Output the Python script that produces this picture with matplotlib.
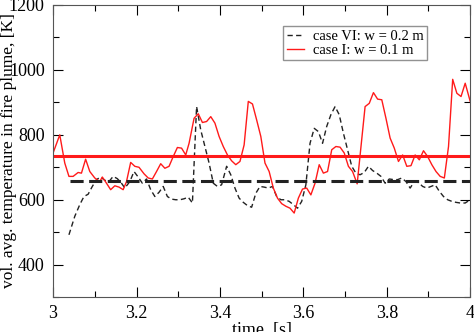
import matplotlib
matplotlib.use("Agg")
import matplotlib.pyplot as plt
from matplotlib.ticker import MultipleLocator

plt.rcParams['font.family'] = ['Liberation Serif', 'DejaVu Serif']

# case I: w = 0.1 m (red solid)
t_case1 = [3.000, 3.016, 3.028, 3.038, 3.048, 3.060, 3.068, 3.078, 3.088, 3.100,
           3.112, 3.118, 3.128, 3.138, 3.148, 3.158, 3.168, 3.176, 3.186, 3.196,
           3.206, 3.218, 3.228, 3.238, 3.248, 3.258, 3.268, 3.278, 3.288, 3.298,
           3.308, 3.318, 3.326, 3.338, 3.348, 3.358, 3.368, 3.378, 3.388, 3.398,
           3.408, 3.418, 3.428, 3.438, 3.448, 3.458, 3.468, 3.478, 3.488, 3.498,
           3.508, 3.518, 3.528, 3.538, 3.548, 3.558, 3.568, 3.578, 3.588, 3.598,
           3.608, 3.618, 3.628, 3.638, 3.648, 3.658, 3.668, 3.678, 3.688, 3.698,
           3.708, 3.718, 3.729, 3.748, 3.758, 3.768, 3.778, 3.788, 3.798, 3.808,
           3.818, 3.828, 3.838, 3.848, 3.858, 3.868, 3.878, 3.888, 3.898, 3.908,
           3.918, 3.928, 3.938, 3.948, 3.958, 3.968, 3.978, 3.988, 4.000]
T_case1 = [744, 800, 713, 672, 672, 684, 682, 725, 687, 667,
           656, 670, 651, 631, 643, 639, 631, 656, 715, 703,
           700, 680, 667, 664, 687, 711, 697, 703, 733, 761,
           759, 738, 774, 851, 865, 838, 841, 856, 836, 795,
           764, 738, 720, 708, 718, 769, 903, 895, 846, 795,
           713, 687, 636, 605, 588, 580, 574, 559, 605, 633,
           636, 615, 651, 708, 682, 687, 754, 764, 762, 744,
           703, 687, 649, 887, 897, 930, 910, 908, 851, 790,
           759, 718, 738, 703, 705, 738, 723, 751, 733, 708,
           687, 672, 667, 764, 971, 928, 918, 959, 903]

# case VI: w = 0.2 m (black dashed)
t_case6 = [3.038, 3.052, 3.064, 3.074, 3.084, 3.094, 3.104, 3.114, 3.124, 3.134,
           3.144, 3.154, 3.164, 3.172, 3.184, 3.194, 3.204, 3.214, 3.224, 3.234,
           3.244, 3.254, 3.264, 3.274, 3.284, 3.294, 3.304, 3.314, 3.324, 3.334,
           3.344, 3.354, 3.364, 3.374, 3.384, 3.394, 3.404, 3.416, 3.426, 3.436,
           3.446, 3.456, 3.466, 3.476, 3.486, 3.496, 3.506, 3.516, 3.526, 3.536,
           3.546, 3.556, 3.566, 3.576, 3.586, 3.596, 3.606, 3.616, 3.626, 3.636,
           3.646, 3.656, 3.666, 3.676, 3.686, 3.696, 3.706, 3.716, 3.726, 3.736,
           3.746, 3.756, 3.766, 3.776, 3.786, 3.796, 3.806, 3.816, 3.826, 3.836,
           3.846, 3.856, 3.866, 3.876, 3.886, 3.896, 3.906, 3.916, 3.926, 3.936,
           3.946, 3.956, 3.966, 3.976, 3.988, 4.000]
T_case6 = [492, 549, 585, 610, 617, 641, 662, 670, 660, 656,
           672, 665, 651, 636, 656, 687, 670, 651, 664, 631,
           610, 623, 641, 610, 602, 600, 600, 603, 608, 590,
           887, 815, 764, 713, 651, 641, 646, 703, 677, 636,
           605, 592, 582, 577, 620, 641, 639, 636, 641, 610,
           600, 600, 595, 585, 574, 595, 646, 774, 820, 810,
           774, 826, 862, 887, 862, 805, 754, 703, 682, 677,
           684, 703, 690, 682, 672, 651, 664, 662, 662, 667,
           656, 636, 656, 653, 641, 636, 641, 646, 626, 610,
           600, 595, 592, 590, 590, 600]

# time averages
mean_case1 = 735
mean_case6 = 657
mean6_start = 3.04

fig = plt.figure(figsize=(4.74, 3.32), dpi=100)
ax = fig.add_axes([0.112, 0.105, 0.880, 0.880])

ax.plot(t_case6, T_case6, color='#222222', linestyle=(0, (3.8, 2.4)), linewidth=1.0,
        label='case VI: w = 0.2 m')
ax.plot(t_case1, T_case1, color='#ff1a1a', linewidth=1.0, label='case I: w = 0.1 m')
ax.plot([mean6_start, 4.0], [mean_case6, mean_case6], color='#222222',
        linestyle=(0, (4.3, 1.8)), linewidth=2.2)
ax.axhline(mean_case1, color='#ff1a1a', linewidth=2.2)

ax.set_xlim(3, 4)
ax.set_ylim(300, 1200)
ax.xaxis.set_minor_locator(MultipleLocator(0.1))
ax.yaxis.set_major_locator(MultipleLocator(200))
ax.yaxis.set_minor_locator(MultipleLocator(100))
ax.set_xticks([3, 3.2, 3.4, 3.6, 3.8, 4])
ax.set_xticklabels(['3', '3.2', '3.4', '3.6', '3.8', '4'])
ax.tick_params(which='both', direction='in', top=True, right=True, labelsize=13, pad=6)
ax.tick_params(which='major', length=7, width=0.8)
ax.tick_params(which='minor', length=4, width=0.8)
for s in ax.spines.values():
    s.set_color('#555555')

ax.set_xlabel('time, [s]', fontsize=13, labelpad=0)
ax.set_ylabel('vol. avg. temperature in fire plume, [K]', fontsize=12.5)
ax.yaxis.set_label_coords(-0.087, 0.5)

leg = ax.legend(loc='upper right', bbox_to_anchor=(0.897, 0.928), borderaxespad=0,
                fontsize=10.5, frameon=True, fancybox=False, handlelength=1.2,
                borderpad=0.25, labelspacing=0.05, handletextpad=0.6)
leg.get_frame().set_edgecolor('#777777')
leg.get_frame().set_linewidth(1.0)

fig.savefig('out.png', dpi=100)
